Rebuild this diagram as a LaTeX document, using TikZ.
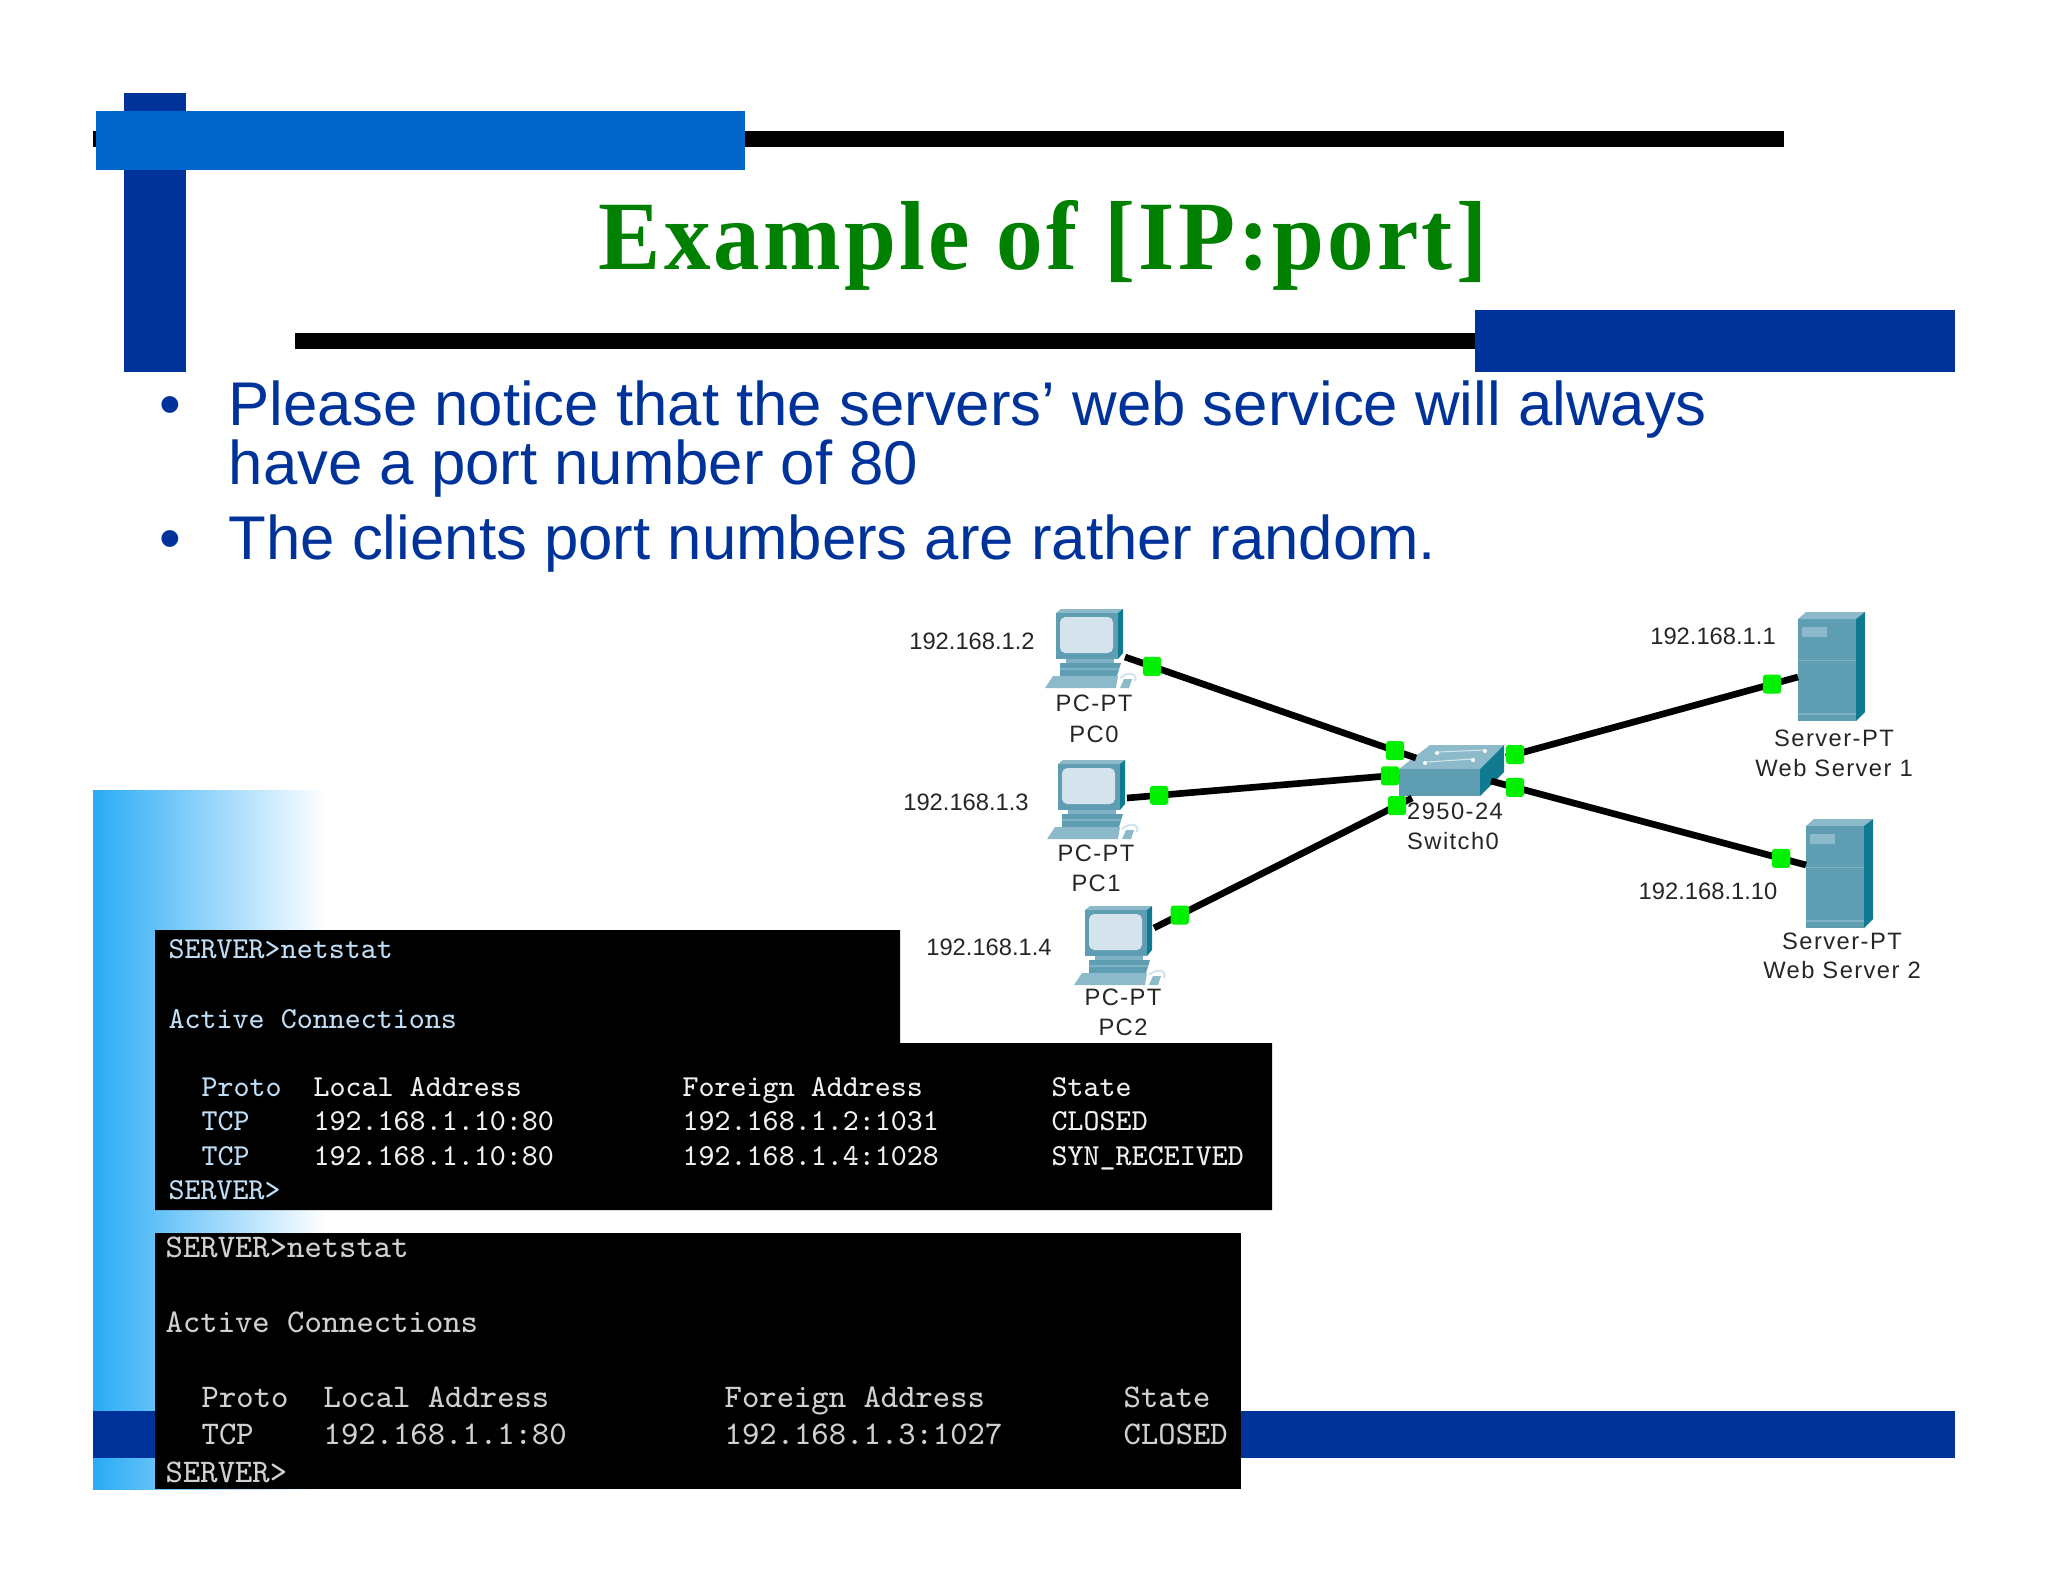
\documentclass[tikz,border=0pt]{standalone}
\usepackage{xcolor}
\usepackage{fontspec}
\setmainfont{Liberation Serif}
\setsansfont{Liberation Sans}
\definecolor{slide-navy}{HTML}{003399}
\definecolor{slide-blue}{HTML}{0066CC}
\definecolor{slide-green}{HTML}{008000}
\definecolor{slide-sky}{HTML}{29ABF5}
\definecolor{term-text}{HTML}{F0F0F0}
\definecolor{term-dim}{HTML}{D0D0D0}
\definecolor{term-tint}{HTML}{BFDDF5}
\definecolor{icon-front}{HTML}{5F9DB3}
\definecolor{icon-top}{HTML}{8DBACA}
\definecolor{icon-side}{HTML}{0F7A90}
\definecolor{icon-pale}{HTML}{D5E4EC}
\definecolor{icon-line}{HTML}{7FB2C4}
\definecolor{link-green}{HTML}{00F000}
\tikzset{
    term/.style={anchor=base west, inner sep=0pt, text=term-text, font=\ttfamily\fontsize{8.67}{10}\selectfont},
    termtint/.style={term, text=term-tint},
    termold/.style={term, text=term-dim, font=\ttfamily\fontsize{9.4}{11}\selectfont},
    bullettext/.style={anchor=base west, inner sep=0pt, text=slide-navy, font=\sffamily\fontsize{17.55}{20}\selectfont},
    bulletmark/.style={anchor=base, inner sep=0pt, text=slide-navy, font=\sffamily\fontsize{17.6}{20}\selectfont},
    netlabel/.style={inner sep=0pt, text=black!85, font=\sffamily\fontsize{6.75}{8}\selectfont},
    netname/.style={netlabel, font=\sffamily\fontsize{6.75}{8}\selectfont\addfontfeature{LetterSpace=6}},
    link/.style={line width=1.9pt, black},
    linkdot/.style={fill=link-green, rounded corners=0.8pt, inner sep=0pt, minimum width=5.2pt, minimum height=5.4pt},
    pics/pc-icon/.style={code={
        % Monitor
        \fill[icon-top] (0,4) -- (5,0) -- (67,0) -- (62,4) -- cycle;
        \fill[icon-front] (0,4) rectangle (62,50);
        \fill[icon-side] (62,4) -- (67,0) -- (67,44) -- (62,50) -- cycle;
        \fill[icon-pale, rounded corners=1.5pt] (4,8) rectangle (57,44);
        % Case
        \fill[icon-line] (10,50) rectangle (58,54);
        \fill[icon-front] (4,54) -- (65,54) -- (61,67) -- (4,67) -- cycle;
        \fill[icon-line] (4,59) -- (63,59) -- (62,61) -- (4,61) -- cycle;
        % Keyboard and mouse
        \fill[icon-top] (-3,67) -- (62,67) -- (60,79) -- (-11,79) -- cycle;
        \draw[icon-pale, line width=0.6pt] (64,69) .. controls (72,62) and (82,64) .. (79,72);
        \fill[icon-top] (68,70) -- (76,70) -- (73,79) -- (64,79) -- cycle;
    }},
    pics/server-icon/.style={code={
        \fill[icon-top] (0,7) -- (8,0) -- (67,0) -- (58,7) -- cycle;
        \fill[icon-front] (0,7) rectangle (58,109);
        \fill[icon-side] (58,7) -- (67,0) -- (67,100) -- (58,109) -- cycle;
        \fill[icon-top] (4,15) rectangle (29,25);
        \fill[icon-line] (0,48) rectangle (58,49);
        \fill[icon-line] (0,101) rectangle (58,103);
    }},
    pics/switch-icon/.style={code={
        \fill[icon-top] (0,24) -- (31,0) -- (105,0) -- (81,24) -- cycle;
        \fill[icon-front] (0,24) rectangle (81,51);
        \fill[icon-side] (81,24) -- (105,0) -- (105,27) -- (81,51) -- cycle;
        \draw[icon-pale, line width=0.3pt] (28,17) -- (74,14);
        \draw[icon-pale, line width=0.3pt] (40,7) -- (85,5);
        \fill[white] (38,8) circle (2);
        \fill[white] (86,6) circle (2);
        \fill[white] (26,18) circle (2);
        \fill[white] (74,15) circle (2);
    }},
}

\begin{document}
\begin{tikzpicture}[x=0.01cm, y=-0.01cm]

    \useasboundingbox (0, 0) rectangle (2048, 1582);

    % Header bars
    \fill[slide-navy] (124, 93) rectangle (186, 372);
    \fill[black] (93, 131) rectangle (1784, 147);
    \fill[slide-blue] (96, 111) rectangle (745, 170);
    \fill[black] (295, 333) rectangle (1475, 349);
    \fill[slide-navy] (1475, 310) rectangle (1955, 372);

    % Title
    \node[inner sep=0pt, anchor=base, text=slide-green, font=\fontsize{27.9}{32}\bfseries\selectfont\addfontfeature{FakeStretch=0.95,LetterSpace=3.3}] (title) at (1043, 269) {Example of [IP:port]};

    % Bullets
    \node[bulletmark] (mark1) at (170, 425) {•};
    \node[bullettext] (line1) at (228, 425) {Please notice that the servers’ web service will always};
    \node[bullettext] (line2) at (228, 484) {have a port number of 80};
    \node[bulletmark] (mark2) at (170, 559) {•};
    \node[bullettext] (line3) at (228, 559) {The clients port numbers are rather random.};

    % Lower left gradient and footer band
    \fill[left color=slide-sky, right color=white] (93, 790) rectangle (325, 1489);
    \fill[slide-navy] (93, 1411) rectangle (1955, 1458);

    % Terminal windows
    \fill[black] (155, 930) -- (900, 930) -- (900, 1043) -- (1272, 1043) -- (1272, 1210) -- (155, 1210) -- cycle;
    \fill[black] (155, 1233) rectangle (1241, 1489);

    % First netstat
    \node[termtint] (upprompt) at (168, 958) {SERVER>netstat};
    \node[termtint] (upactive) at (168, 1028) {Active Connections};
    \node[termtint] (upproto) at (201, 1096) {Proto};
    \node[term] (uplocal) at (313, 1096) {Local Address};
    \node[term] (upforeign) at (682, 1096) {Foreign Address};
    \node[term] (upstate) at (1051, 1096) {State};
    \node[termtint] (uptcpa) at (201, 1130) {TCP};
    \node[term] (uplocala) at (313, 1130) {192.168.1.10:80};
    \node[term] (upforeigna) at (682, 1130) {192.168.1.2:1031};
    \node[term] (upstatea) at (1051, 1130) {CLOSED};
    \node[termtint] (uptcpb) at (201, 1165) {TCP};
    \node[term] (uplocalb) at (313, 1165) {192.168.1.10:80};
    \node[term] (upforeignb) at (682, 1165) {192.168.1.4:1028};
    \node[term] (upstateb) at (1051, 1165) {SYN\_RECEIVED};
    \node[termtint] (upend) at (168, 1199) {SERVER>};

    % Second netstat
    \node[termold] (lowprompt) at (165, 1257) {SERVER>netstat};
    \node[termold] (lowactive) at (165, 1332) {Active Connections};
    \node[termold] (lowproto) at (201, 1407) {Proto};
    \node[termold] (lowlocal) at (323, 1407) {Local Address};
    \node[termold] (lowforeign) at (724, 1407) {Foreign Address};
    \node[termold] (lowstate) at (1123, 1407) {State};
    \node[termold] (lowtcp) at (201, 1444) {TCP};
    \node[termold] (lowlocala) at (323, 1444) {192.168.1.1:80};
    \node[termold] (lowforeigna) at (724, 1444) {192.168.1.3:1027};
    \node[termold] (lowstatea) at (1123, 1444) {CLOSED};
    \node[termold] (lowend) at (165, 1482) {SERVER>};

    % Network devices
    \pic at (1056, 609) {pc-icon};
    \pic at (1058, 760) {pc-icon};
    \pic at (1085, 906) {pc-icon};
    \pic at (1798, 612) {server-icon};
    \pic at (1806, 819) {server-icon};
    \pic at (1399, 745) {switch-icon};

    % Link ends
    \coordinate (PC0port) at (1125, 657);
    \coordinate (PC1port) at (1127, 798);
    \coordinate (PC2port) at (1154, 928);
    \coordinate (WS1port) at (1798, 677);
    \coordinate (WS2port) at (1806, 865);
    \coordinate (SW0a) at (1416, 758);
    \coordinate (SW0b) at (1399, 775);
    \coordinate (SW0c) at (1412, 798);
    \coordinate (SW0d) at (1506, 757);
    \coordinate (SW0e) at (1491, 781);

    % Links
    \draw[link] (PC0port) -- node[linkdot, pos=0.093] (PC0near) {} node[linkdot, pos=0.928] (PC0far) {} (SW0a);
    \draw[link] (PC1port) -- node[linkdot, pos=0.118] (PC1near) {} node[linkdot, pos=0.967] (PC1far) {} (SW0b);
    \draw[link] (PC2port) -- node[linkdot, pos=0.1] (PC2near) {} node[linkdot, pos=0.942] (PC2far) {} (SW0c);
    \draw[link] (WS1port) -- node[linkdot, pos=0.089] (WS1near) {} node[linkdot, pos=0.969] (WS1far) {} (SW0d);
    \draw[link] (WS2port) -- node[linkdot, pos=0.079] (WS2near) {} node[linkdot, pos=0.924] (WS2far) {} (SW0e);

    % Device labels
    \node[netlabel] (PC0ip) at (972, 641) {192.168.1.2};
    \node[netname] (PC0type) at (1094, 703) {PC-PT};
    \node[netname] (PC0name) at (1094, 734) {PC0};
    \node[netlabel] (PC1ip) at (966, 802) {192.168.1.3};
    \node[netname] (PC1type) at (1096, 853) {PC-PT};
    \node[netname] (PC1name) at (1096, 883) {PC1};
    \node[netlabel] (PC2ip) at (989, 947) {192.168.1.4};
    \node[netname] (PC2type) at (1123, 997) {PC-PT};
    \node[netname] (PC2name) at (1123, 1027) {PC2};
    \node[netname] (SW0type) at (1455, 811) {2950-24};
    \node[netname] (SW0name) at (1453, 841) {Switch0};
    \node[netlabel] (WS1ip) at (1713, 636) {192.168.1.1};
    \node[netname] (WS1type) at (1834, 738) {Server-PT};
    \node[netname] (WS1name) at (1834, 768) {Web Server 1};
    \node[netlabel] (WS2ip) at (1708, 891) {192.168.1.10};
    \node[netname] (WS2type) at (1842, 941) {Server-PT};
    \node[netname] (WS2name) at (1842, 970) {Web Server 2};

\end{tikzpicture}
\end{document}
